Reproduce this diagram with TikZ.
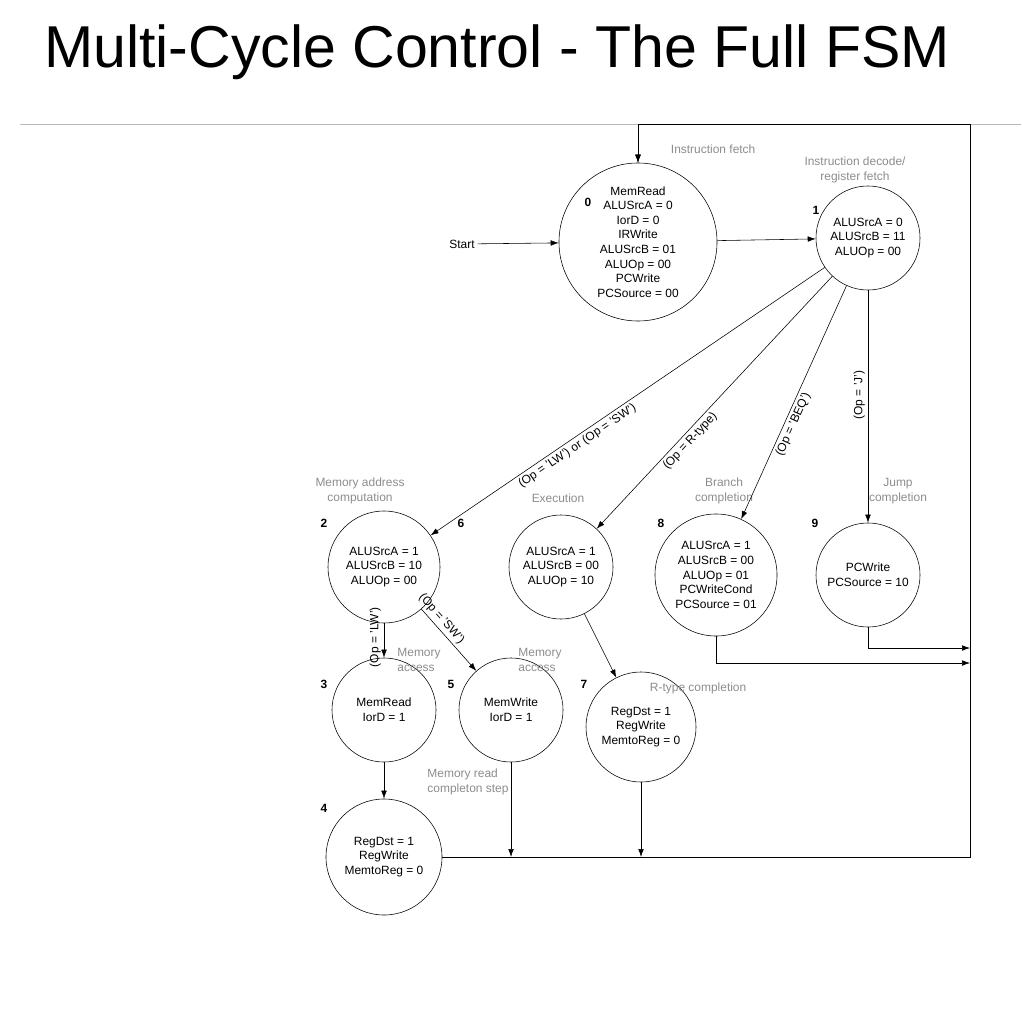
\documentclass[tikz,border=0pt]{standalone}
\usepackage{fontspec}
\setmainfont{Liberation Sans}
\usepackage{tikz}
\usetikzlibrary{arrows.meta,positioning}
\definecolor{capgray}{RGB}{140,140,140}
\begin{document}
\begin{tikzpicture}[x=0.025cm,y=-0.025cm,
	state/.style={circle,draw,thin,inner sep=0pt,align=center,font=\fontsize{8.5}{10.4}\selectfont},
	caption/.style={text=capgray,align=center,font=\fontsize{8.5}{10.4}\selectfont},
	num/.style={font=\fontsize{8.5}{10}\selectfont\bfseries},
	lbl/.style={font=\fontsize{8.5}{10}\selectfont,inner sep=2pt}]
	\useasboundingbox (0,0) rectangle (1021,1024);
	\node[font=\fontsize{42}{46}\selectfont] (title) at (497,52) {Multi-Cycle Control - The Full FSM};
	\draw[capgray!60] (20,124) -- (1021,124);

	\begin{scope}[every node/.style={state}]
		\node[minimum size=3.95cm] (s0) at (638,242) {MemRead\\ALUSrcA = 0\\IorD = 0\\IRWrite\\ALUSrcB = 01\\ALUOp = 00\\PCWrite\\PCSource = 00};
		\node[minimum size=2.6cm] (s1) at (868,238) {ALUSrcA = 0\\ALUSrcB = 11\\ALUOp = 00};
		\node[minimum size=2.8cm] (s2) at (384,567) {ALUSrcA = 1\\ALUSrcB = 10\\ALUOp = 00};
		\node[minimum size=2.6cm] (s6) at (561,567) {ALUSrcA = 1\\ALUSrcB = 00\\ALUOp = 10};
		\node[minimum size=3.05cm] (s8) at (716,575) {ALUSrcA = 1\\ALUSrcB = 00\\ALUOp = 01\\PCWriteCond\\PCSource = 01};
		\node[minimum size=2.6cm] (s9) at (868,575) {PCWrite\\PCSource = 10};
		\node[minimum size=2.6cm] (s3) at (384,710) {MemRead\\IorD = 1};
		\node[minimum size=2.6cm] (s5) at (511,710) {MemWrite\\IorD = 1};
		\node[minimum size=2.75cm] (s7) at (641,727) {RegDst = 1\\RegWrite\\MemtoReg = 0};
		\node[minimum size=2.9cm] (s4) at (384,857) {RegDst = 1\\RegWrite\\MemtoReg = 0};
	\end{scope}

	\begin{scope}[every node/.style={num}]
		\node (n0) at (588,202) {0};
		\node (n1) at (816,210) {1};
		\node (n2) at (324,523) {2};
		\node (n6) at (461,523) {6};
		\node (n8) at (661,523) {8};
		\node (n9) at (815,523) {9};
		\node (n3) at (324,684) {3};
		\node (n5) at (451,684) {5};
		\node (n7) at (584,684) {7};
		\node (n4) at (324,808) {4};
	\end{scope}

	\begin{scope}[every node/.style={caption}]
		\node[anchor=west] (capfetch) at (666,149) {Instruction fetch};
		\node (capdecode) at (855,170) {Instruction decode/\\register fetch};
		\node (capaddr) at (360,491) {Memory address\\computation};
		\node (capexec) at (558,498) {Execution};
		\node (capbranch) at (724,491) {Branch\\completion};
		\node (capjump) at (898,491) {Jump\\completion};
		\node[align=left] (capmem3) at (419,660) {Memory\\access};
		\node[align=left] (capmem5) at (540,660) {Memory\\access};
		\node[anchor=west] (caprtype) at (645,688) {R-type completion};
		\node[align=left] (capread) at (468,782) {Memory read\\completon step};
	\end{scope}

	\node[lbl] (start) at (462,244) {Start};
	\coordinate (ftop) at (638,124);
	\coordinate (cTR) at (970,124);
	\coordinate (cBR) at (970,857);
	\coordinate (c5) at (511,857);
	\coordinate (c7) at (641,857);
	\coordinate (c8) at (970,663);
	\coordinate (c9) at (970,648);

	\begin{scope}[>={Latex[length=2mm,width=1.4mm]}]
	\draw[->] (ftop) -- (s0);
	\draw[->] (start) -- (s0);
	\draw[->] (s0) -- (s1);
	\draw[->] (s1) -- node[lbl,sloped,below,pos=0.64] {(Op = 'LW') or (Op = 'SW')} (s2);
	\draw[->] (s1) -- node[lbl,sloped,below,pos=0.63] {(Op = R-type)} (s6);
	\draw[->] (s1) -- node[lbl,sloped,below,pos=0.58] {(Op = 'BEQ')} (s8);
	\draw[->] (s1) -- node[lbl,rotate=90,anchor=south,pos=0.45] {(Op = 'J')} (s9);
	\draw[->] (s2) -- node[lbl,rotate=90,anchor=south,pos=0.4] {(Op = 'LW')} (s3);
	\draw[->] (s2) -- node[lbl,sloped,above,pos=0.25] {(Op = 'SW')} (s5);
	\draw[->] (s6) -- (s7);
	\draw[->] (s3) -- (s4);
	\draw[->] (s5) -- (c5);
	\draw[->] (s7) -- (c7);
	\draw[->] (s8.south) |- (c8);
	\draw[->] (s9.south) |- (c9);
	\draw[->] (s4.east) -- (cBR) -- (cTR) -| (s0.north);
	\end{scope}
\end{tikzpicture}
\end{document}
